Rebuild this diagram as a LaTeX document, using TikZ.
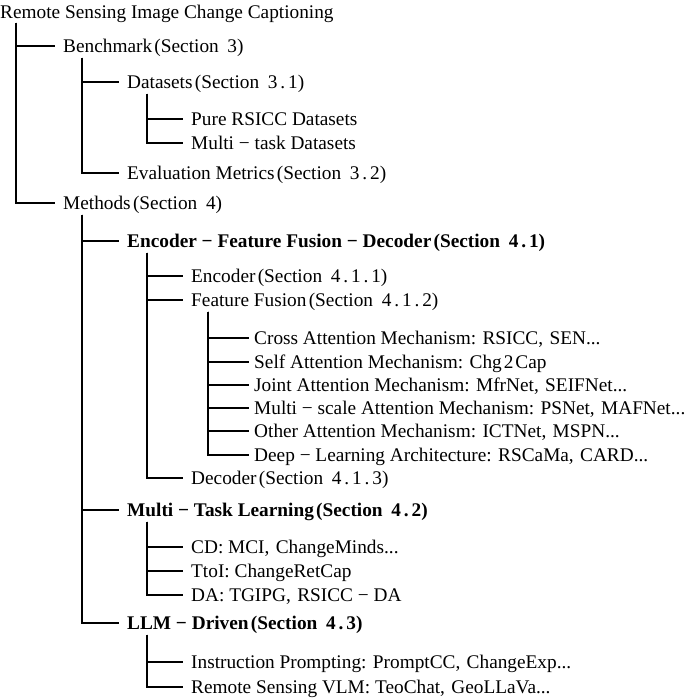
\documentclass[tikz,border=0pt]{standalone}
\usepackage{fontspec}
\setmainfont{Liberation Serif}
\newcommand{\Sect}[1]{\hspace{0.12em}(Section\hspace{0.45em}#1)}
\newcommand{\Dt}{\hspace{0.15em}.\hspace{0.15em}}
\newcommand{\Cm}{,\hspace{0.33em}}
\begin{document}
\begin{tikzpicture}[x=1pt,y=-1pt,
  every node/.style={anchor=west, inner xsep=8pt, inner ysep=0pt,
    text height=15pt, text depth=2pt, font=\fontsize{19.3}{23}\selectfont},
  lnk/.style={line width=1.35pt},
  lfour/.style={inner xsep=5pt},
  bf/.style={font=\fontsize{19.3}{23}\selectfont\bfseries}
]
\useasboundingbox (0,0) rectangle (685,698);
% root
\node[inner xsep=0pt] (root) at (0,12) {Remote Sensing Image Change Captioning};
% level 1
\node (bench) at (55,46) {Benchmark\Sect{3}};
\node (meth) at (55,203) {Methods\Sect{4}};
% level 2
\node (data) at (119,82) {Datasets\Sect{3\Dt1}};
\node (eval) at (119,173) {Evaluation Metrics\Sect{3\Dt2}};
\node[bf] (efd) at (119,241) {Encoder − Feature Fusion − Decoder\Sect{4\Dt1}};
\node[bf] (mtl) at (119,510) {Multi − Task Learning\Sect{4\Dt2}};
\node[bf] (llm) at (119,623) {LLM − Driven\Sect{4\Dt3}};
% level 3
\node (pure) at (183,119) {Pure RSICC Datasets};
\node (mtd) at (183,143) {Multi − task Datasets};
\node (enc) at (183,276) {Encoder\Sect{4\Dt1\Dt1}};
\node (ff) at (183,300) {Feature Fusion\Sect{4\Dt1\Dt2}};
\node (dec) at (183,478) {Decoder\Sect{4\Dt1\Dt3}};
\node (cd) at (183,547) {CD: MCI\Cm ChangeMinds...};
\node (ttoi) at (183,571) {TtoI: ChangeRetCap};
\node (da) at (183,595) {DA: TGIPG\Cm RSICC − DA};
\node (ip) at (183,662) {Instruction Prompting: PromptCC\Cm ChangeExp...};
\node (vlm) at (183,687) {Remote Sensing VLM: TeoChat\Cm GeoLLaVa...};
% level 4
\node[lfour] (cross) at (249,338) {Cross Attention Mechanism: RSICC\Cm SEN...};
\node[lfour] (self) at (249,362) {Self Attention Mechanism: Chg\hspace{0.1em}2\hspace{0.1em}Cap};
\node[lfour] (joint) at (249,385) {Joint Attention Mechanism: MfrNet\Cm SEIFNet...};
\node[lfour] (mscale) at (249,408) {Multi − scale Attention Mechanism: PSNet\Cm MAFNet...};
\node[lfour] (other) at (249,431) {Other Attention Mechanism: ICTNet\Cm MSPN...};
\node[lfour] (deep) at (249,455) {Deep − Learning Architecture: RSCaMa\Cm CARD...};
% connectors
\foreach \c in {bench,meth}
  \draw[lnk] ([xshift=16pt,yshift=-2pt]root.south west) |- (\c.west);
\foreach \c in {data,eval}
  \draw[lnk] ([xshift=27pt,yshift=-3pt]bench.south west) |- (\c.west);
\foreach \c in {efd,mtl,llm}
  \draw[lnk] ([xshift=27pt,yshift=-3pt]meth.south west) |- (\c.west);
\foreach \c in {pure,mtd}
  \draw[lnk] ([xshift=28pt,yshift=-3pt]data.south west) |- (\c.west);
\foreach \c in {enc,ff,dec}
  \draw[lnk] ([xshift=28pt,yshift=-3pt]efd.south west) |- (\c.west);
\foreach \c in {cd,ttoi,da}
  \draw[lnk] ([xshift=28pt,yshift=-3pt]mtl.south west) |- (\c.west);
\foreach \c in {ip,vlm}
  \draw[lnk] ([xshift=28pt,yshift=-3pt]llm.south west) |- (\c.west);
\foreach \c in {cross,self,joint,mscale,other,deep}
  \draw[lnk] ([xshift=25pt,yshift=-3pt]ff.south west) |- (\c.west);
\end{tikzpicture}
\end{document}
